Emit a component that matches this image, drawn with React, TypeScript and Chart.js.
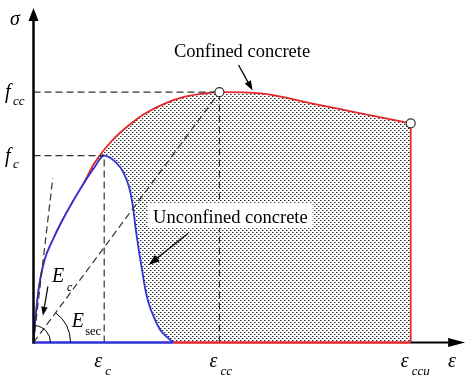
import React, { useEffect, useRef } from "react";
import { Chart, registerables } from "chart.js";

Chart.register(...registerables);

// ---- data (strain in ‰-like units, stress in MPa-like units) ----
const unconfinedStrain = [0, 0.078, 0.173, 0.313, 0.545, 0.778, 1.057, 1.385, 1.712, 2.0, 2.308, 2.551, 2.727, 2.825, 2.895, 2.979, 3.071, 3.166, 3.259, 3.399, 3.586, 3.818, 3.96];
const unconfinedStress = [0, 5.22, 9.55, 13.25, 16.46, 19.19, 22.08, 25.21, 28.02, 30.0, 29.04, 27.22, 24.49, 21.28, 18.07, 14.85, 11.64, 8.43, 6.3, 4.14, 2.01, 0.67, 0];

const confinedStrain = [0, 0.078, 0.173, 0.313, 0.545, 0.778, 1.057, 1.385, 1.72, 2.232, 2.699, 3.166, 3.726, 4.285, 4.845, 5.26, 6.42, 7.818, 9.217, 10.67];
const confinedStress = [0, 5.22, 9.55, 13.25, 16.46, 19.19, 22.08, 25.21, 28.78, 32.48, 34.89, 36.81, 38.41, 39.47, 40.02, 40.2, 40.02, 38.46, 36.85, 35.2];

const epsC = 2.0;
const epsCC = 5.26;
const epsCCU = 10.67;
const epsUnconfinedEnd = 3.96;
const fC = 30;
const fCC = 40.2;
const fCCU = 35.2;
const tangentStrain = [0, 0.545];
const tangentStress = [0, 26.4];

const xTickLabels = [
  { v: epsC, main: "ε", sub: "c" },
  { v: epsCC, main: "ε", sub: "cc" },
  { v: epsCCU, main: "ε", sub: "ccu" },
];
const yTickLabels = [
  { v: fCC, main: "f", sub: "cc" },
  { v: fC, main: "f", sub: "c" },
];

const RED = "#e3262b";
const BLUE = "#3131d9";
const DASH = "#333333";
const SERIF = '"Liberation Serif", "Times New Roman", serif';

const pts = (xs: number[], ys: number[]) => xs.map((x, i) => ({ x, y: ys[i] }));

function makePattern(): CanvasPattern | string {
  const c = document.createElement("canvas");
  c.width = 4;
  c.height = 4;
  const g = c.getContext("2d");
  if (!g) return "#bbb";
  g.fillStyle = "#ffffff";
  g.fillRect(0, 0, 4, 4);
  g.fillStyle = "#222";
  g.fillRect(0, 0, 1, 1);
  g.fillRect(2, 2, 1, 1);
  g.fillStyle = "#9a9a9a";
  g.fillRect(1, 0, 1, 1);
  g.fillRect(3, 2, 1, 1);
  const p = g.createPattern(c, "repeat");
  return p || "#bbb";
}

function arrow(ctx: CanvasRenderingContext2D, x1: number, y1: number, x2: number, y2: number, len: number, half: number, lw: number) {
  const a = Math.atan2(y2 - y1, x2 - x1);
  const bx = x2 - len * Math.cos(a);
  const by = y2 - len * Math.sin(a);
  ctx.lineWidth = lw;
  ctx.beginPath();
  ctx.moveTo(x1, y1);
  ctx.lineTo(bx, by);
  ctx.stroke();
  ctx.beginPath();
  ctx.moveTo(x2, y2);
  ctx.lineTo(bx + half * Math.sin(a), by - half * Math.cos(a));
  ctx.lineTo(bx - half * Math.sin(a), by + half * Math.cos(a));
  ctx.closePath();
  ctx.fill();
}

const annotate = {
  id: "annotate",
  afterDatasetsDraw(chart: any) {
    const ctx: CanvasRenderingContext2D = chart.ctx;
    const xs = chart.scales.x;
    const ys = chart.scales.y;
    const px = (v: number) => xs.getPixelForValue(v);
    const py = (v: number) => ys.getPixelForValue(v);
    const x0 = px(0);
    const y0 = py(0);
    ctx.save();
    ctx.strokeStyle = "#000";
    ctx.fillStyle = "#000";

    // y axis with arrow
    arrow(ctx, x0, y0 + 1.2, x0, py(53.7), 13, 5, 2.5);
    // x axis (black part) with arrow
    arrow(ctx, px(epsCCU), y0, px(12.21), y0, 17, 4.5, 2.2);

    // angle arcs
    ctx.lineWidth = 1;
    const angT = Math.atan2(py(tangentStress[1]) - y0, px(tangentStrain[1]) - x0);
    ctx.beginPath();
    ctx.arc(x0, y0, 17, angT, 0);
    ctx.stroke();
    const angS = Math.atan2(py(fCC) - y0, px(epsCC) - x0);
    ctx.beginPath();
    ctx.arc(x0, y0, 37, angS, 0);
    ctx.stroke();

    // annotation arrows
    arrow(ctx, px(5.8), py(44.56), px(6.2), py(40.45), 10, 3.5, 1.3);
    arrow(ctx, px(4.378), py(17.54), px(3.259), py(12.45), 11, 4, 1.3);
    arrow(ctx, px(0.406), py(8.96), px(0.266), py(4.3), 9, 3.2, 1.2);

    // text labels
    ctx.textBaseline = "alphabetic";
    ctx.font = `18.5px ${SERIF}`;
    ctx.textAlign = "center";
    ctx.fillText("Confined concrete", px(5.9), py(45.8));

    const uText = "Unconfined concrete";
    const uw = ctx.measureText(uText).width;
    const ux = px(5.57);
    const ub = py(19.24);
    ctx.fillStyle = "#fff";
    ctx.fillRect(ux - uw / 2 - 5, ub - 20, uw + 10, 25.5);
    ctx.fillStyle = "#000";
    ctx.fillText(uText, ux, ub);

    ctx.textAlign = "left";
    // E_c
    ctx.font = `italic 20px ${SERIF}`;
    ctx.fillText("E", px(0.52), py(9.72));
    ctx.font = `italic 12px ${SERIF}`;
    ctx.fillText("c", px(0.52) + 15, py(9.72) + 9);
    // E_sec
    ctx.font = `italic 20px ${SERIF}`;
    ctx.fillText("E", px(1.08), py(2.49));
    ctx.font = `12.5px ${SERIF}`;
    ctx.fillText("sec", px(1.08) + 13.5, py(2.49) + 8);

    // axis titles
    ctx.font = `italic 20px ${SERIF}`;
    ctx.fillText("σ", 10, 25);
    ctx.fillText("ε", px(12.21) - 17, y0 + 24.5);

    // y tick labels
    for (const t of yTickLabels) {
      const yy = py(t.v);
      ctx.font = `italic 20px ${SERIF}`;
      ctx.fillText(t.main, 5, yy + 6);
      ctx.font = `italic 13px ${SERIF}`;
      ctx.fillText(t.sub, 13, yy + 12.5);
    }
    // x tick labels
    for (const t of xTickLabels) {
      const xx = px(t.v);
      ctx.font = `italic 20px ${SERIF}`;
      ctx.fillText(t.main, xx - 10, y0 + 24.5);
      ctx.font = `italic 13px ${SERIF}`;
      ctx.fillText(t.sub, xx + 1, y0 + 32.5);
    }
    ctx.restore();
  },
};

export default function App() {
  const ref = useRef<HTMLCanvasElement | null>(null);
  useEffect(() => {
    document.body.style.margin = "0";
    const canvas = ref.current;
    if (!canvas) return;
    const pattern = makePattern();
    const dashed = (data: { x: number; y: number }[]) => ({
      data,
      showLine: true,
      borderColor: DASH,
      borderWidth: 1.2,
      borderDash: [7, 4],
      pointRadius: 0,
      fill: false,
      order: 5,
      clip: false,
    });
    const solid = (data: { x: number; y: number }[], color: string) => ({
      data,
      showLine: true,
      borderColor: color,
      borderWidth: 2.4,
      pointRadius: 0,
      fill: false,
      order: 3,
      clip: false,
    });
    const chart = new Chart(canvas, {
      type: "scatter",
      data: {
        datasets: [
          {
            data: pts(confinedStrain, confinedStress),
            showLine: true,
            borderColor: RED,
            borderWidth: 1.8,
            backgroundColor: pattern as any,
            fill: "origin",
            cubicInterpolationMode: "monotone",
            pointRadius: 0,
            order: 10,
            clip: false,
          },
          {
            data: pts(unconfinedStrain, unconfinedStress),
            showLine: true,
            borderColor: BLUE,
            borderWidth: 1.8,
            backgroundColor: "#ffffff",
            fill: "origin",
            cubicInterpolationMode: "monotone",
            pointRadius: 0,
            order: 9,
            clip: false,
          },
          dashed([{ x: 0, y: fCC }, { x: epsCC, y: fCC }]),
          dashed([{ x: 0, y: fC }, { x: epsC, y: fC }]),
          dashed([{ x: epsC, y: 0 }, { x: epsC, y: fC }]),
          dashed([{ x: epsCC, y: 0 }, { x: epsCC, y: fCC }]),
          dashed([{ x: 0, y: 0 }, { x: epsCC, y: fCC }]),
          dashed(pts(tangentStrain, tangentStress)),
          solid([{ x: 0, y: 0 }, { x: epsUnconfinedEnd, y: 0 }], BLUE),
          solid([{ x: epsUnconfinedEnd, y: 0 }, { x: epsCCU, y: 0 }], RED),
          { ...solid([{ x: epsCCU, y: 0 }, { x: epsCCU, y: fCCU }], RED), borderWidth: 1.8 },
          {
            data: [{ x: epsCC, y: fCC }, { x: epsCCU, y: fCCU }],
            showLine: false,
            pointRadius: 4.5,
            pointBackgroundColor: "#ffffff",
            pointBorderColor: "#333333",
            pointBorderWidth: 1.2,
            order: 1,
            clip: false,
          },
        ] as any,
      },
      options: {
        responsive: false,
        devicePixelRatio: 1,
        animation: false,
        events: [],
        layout: { padding: { left: 33.5, right: 0.8, top: 6.24, bottom: 38.5 } },
        scales: {
          x: { type: "linear", min: 0, max: 12.3, display: false },
          y: { type: "linear", min: 0, max: 54, display: false },
        },
        plugins: { legend: { display: false }, tooltip: { enabled: false } },
      },
      plugins: [annotate],
    });
    return () => chart.destroy();
  }, []);
  return <canvas ref={ref} width={474} height={381} style={{ display: "block" }} />;
}
